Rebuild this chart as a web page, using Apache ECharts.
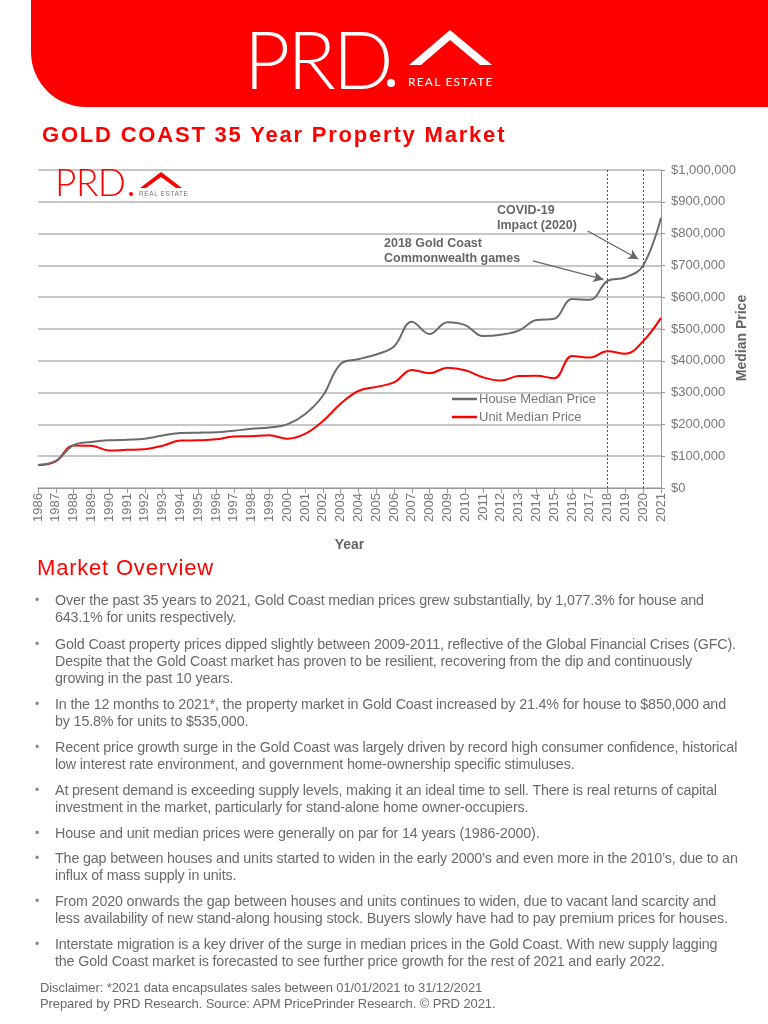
<!DOCTYPE html>
<html>
<head>
<meta charset="utf-8">
<script src="https://cdn.jsdelivr.net/npm/echarts@6/dist/echarts.min.js"></script>
<style>
  html, body { margin:0; padding:0; background:#fff; width:768px; height:1024px; overflow:hidden; }
  body { position:relative; font-family: "Liberation Sans", Arial, sans-serif; }
  #chart { position:absolute; left:0; top:0; width:768px; height:1024px; z-index:1; }
  .abs { position:absolute; z-index:2; }
  #header { left:31px; top:0; width:737px; height:107px; background:#ff0000; border-bottom-left-radius:55px; z-index:0; }
  .bigprd { font-family: Lato, "Open Sans", sans-serif; font-weight:300; color:#fff; font-size:80px; line-height:80px; letter-spacing:-3px; }
  #title { left:42px; top:121px; color:#ff0000; font-weight:bold; font-size:22px; letter-spacing:1.8px; line-height:28px; white-space:nowrap; }
  #mo { left:37px; top:554px; color:#ff0000; font-size:22px; letter-spacing:0.8px; line-height:28px; white-space:nowrap; }
  .b { left:55px; color:#6a6a6a; font-size:14.3px; line-height:17px; white-space:nowrap; letter-spacing:-0.15px; }
  .b::before { content:"•"; position:absolute; left:-20px; top:0; font-size:12px; color:#888; }
  .d { left:40px; color:#6a6a6a; font-size:13px; line-height:16px; white-space:nowrap; letter-spacing:-0.1px; }
</style>
</head>
<body>
<div id="header" class="abs"></div>
<div class="abs bigprd" style="left:244px; top:18px;">PRD</div>
<div class="abs" style="left:387px; top:79px; width:8px; height:8px; border-radius:4px; background:#fff;"></div>
<svg class="abs" style="left:0; top:0;" width="768" height="110">
  <polygon points="409,65 450,30 492,65 480,65 450,40 421,65" fill="#fff"/>
</svg>
<div class="abs" style="left:408px; top:75px; color:#fff; font-size:12px; letter-spacing:1.2px; line-height:14px; font-family:Lato, sans-serif;">REAL ESTATE</div>

<div id="title" class="abs">GOLD COAST 35 Year Property Market</div>

<!-- inner chart logo -->
<div class="abs" style="left:55px; top:163px; color:#ff0000; font-family:Lato, sans-serif; font-weight:300; font-size:37px; line-height:38px; letter-spacing:-0.5px;">PRD</div>
<div class="abs" style="left:129px; top:192px; width:4px; height:4px; border-radius:2px; background:#ff0000;"></div>
<svg class="abs" style="left:0; top:160px;" width="300" height="40">
  <polygon points="140,28 161,12 182,28 176,28 161,17 146,28" fill="#ff0000"/>
</svg>
<div class="abs" style="left:139px; top:190px; color:#777; font-size:6.5px; letter-spacing:0.6px; line-height:8px;">REAL ESTATE</div>

<div id="chart"></div>

<div id="mo" class="abs">Market Overview</div>

<div class="abs b" style="top:592px;">Over the past 35 years to 2021, Gold Coast median prices grew substantially, by 1,077.3% for house and<br>643.1% for units respectively.</div>
<div class="abs b" style="top:636px;">Gold Coast property prices dipped slightly between 2009-2011, reflective of the Global Financial Crises (GFC).<br>Despite that the Gold Coast market has proven to be resilient, recovering from the dip and continuously<br>growing in the past 10 years.</div>
<div class="abs b" style="top:696px;">In the 12 months to 2021*, the property market in Gold Coast increased by 21.4% for house to $850,000 and<br>by 15.8% for units to $535,000.</div>
<div class="abs b" style="top:739px;">Recent price growth surge in the Gold Coast was largely driven by record high consumer confidence, historical<br>low interest rate environment, and government home-ownership specific stimuluses.</div>
<div class="abs b" style="top:782px;">At present demand is exceeding supply levels, making it an ideal time to sell. There is real returns of capital<br>investment in the market, particularly for stand-alone home owner-occupiers.</div>
<div class="abs b" style="top:825px;">House and unit median prices were generally on par for 14 years (1986-2000).</div>
<div class="abs b" style="top:850px;">The gap between houses and units started to widen in the early 2000’s and even more in the 2010’s, due to an<br>influx of mass supply in units.</div>
<div class="abs b" style="top:893px;">From 2020 onwards the gap between houses and units continues to widen, due to vacant land scarcity and<br>less availability of new stand-along housing stock. Buyers slowly have had to pay premium prices for houses.</div>
<div class="abs b" style="top:936px;">Interstate migration is a key driver of the surge in median prices in the Gold Coast. With new supply lagging<br>the Gold Coast market is forecasted to see further price growth for the rest of 2021 and early 2022.</div>
<div class="abs d" style="top:980px;">Disclaimer: *2021 data encapsulates sales between 01/01/2021 to 31/12/2021<br>Prepared by PRD Research. Source: APM PricePrinder Research. © PRD 2021.</div>

<script>
const years = [1986,1987,1988,1989,1990,1991,1992,1993,1994,1995,1996,1997,1998,1999,2000,2001,2002,2003,2004,2005,2006,2007,2008,2009,2010,2011,2012,2013,2014,2015,2016,2017,2018,2019,2020,2021];
const houseMedian = [72200,85000,135000,145000,150000,152000,155000,165000,173000,174000,175000,180000,186000,190000,200000,232000,290000,390000,405000,420000,445000,523000,484000,521000,512000,478000,482000,495000,528000,532000,594000,592000,651000,662000,700000,850000];
const unitMedian = [72000,84000,134000,133000,118000,120000,122000,133000,149000,150000,153000,162000,163000,166000,155000,170000,210000,265000,305000,318000,332000,371000,361000,378000,370000,348000,338000,352000,353000,345000,415000,410000,430000,422000,462000,535000];
const eventYears = [2018, 2020];
// annotation arrows: [fromYear, fromValue, toYear, toValue]
const gamesArrow = [2013.8, 714000, 2017.76, 656000];
const covidArrow = [2016.88, 808000, 2019.72, 720000];

const chart = echarts.init(document.getElementById('chart'), null, {renderer:'canvas'});
const grey = '#777';
const fmt = v => '$' + v.toLocaleString('en-US');
const dashStyle = { color: '#555', type: [2, 2], width: 1 };

chart.setOption({
  animation: false,
  grid: { left: 38, right: 107, top: 170, bottom: 536, containLabel: false },
  legend: {
    orient: 'vertical', left: 447, top: 387, itemGap: 4, itemWidth: 25, itemHeight: 2.5, icon: 'rect',
    textStyle: { color: grey, fontSize: 13, fontFamily: 'Liberation Sans', padding: [0,0,0,-3], lineHeight: 14 },
    data: ['House Median Price', 'Unit Median Price']
  },
  xAxis: {
    type: 'value', min: 1986, max: 2021, interval: 1,
    name: 'Year', nameLocation: 'middle', nameGap: 50,
    nameTextStyle: { color: '#666', fontWeight: 'bold', fontSize: 14, fontFamily: 'Liberation Sans' },
    axisLine: { show: true, lineStyle: { color: '#999', width: 1 } },
    axisTick: { show: true, length: 5, lineStyle: { color: '#999' } },
    axisLabel: { rotate: 90, color: grey, fontSize: 13, margin: 5, fontFamily: 'Liberation Sans', formatter: v => String(v), showMinLabel: true, showMaxLabel: true },
    splitLine: { show: false }
  },
  yAxis: {
    type: 'value', position: 'right', min: 0, max: 1000000, interval: 100000,
    name: 'Median Price', nameLocation: 'middle', nameRotate: 90, nameGap: 74, nameMoveOverlap: false,
    nameTextStyle: { color: '#666', fontWeight: 'bold', fontSize: 14, fontFamily: 'Liberation Sans', padding: [0, 18, 0, 0] },
    axisLine: { show: true, lineStyle: { color: '#999', width: 1 } },
    axisTick: { show: true, length: 4, lineStyle: { color: '#999' } },
    axisLabel: { color: grey, fontSize: 13, margin: 10, fontFamily: 'Liberation Sans', formatter: fmt },
    splitLine: { show: true, lineStyle: { color: '#b4b4b4', width: 1.5 } }
  },
  series: [
    {
      name: 'Unit Median Price', type: 'line', smooth: 0.4, symbol: 'none',
      data: years.map((y, i) => [y, unitMedian[i]]),
      lineStyle: { color: '#ff0000', width: 2 }, itemStyle: { color: '#ff0000' }, z: 3
    },
    {
      name: 'House Median Price', type: 'line', smooth: 0.4, symbol: 'none',
      data: years.map((y, i) => [y, houseMedian[i]]),
      lineStyle: { color: '#6b6b6b', width: 2 }, itemStyle: { color: '#6b6b6b' }, z: 4,
      markLine: {
        silent: true, animation: false, symbol: ['none', 'none'],
        data: [
          { xAxis: eventYears[0], lineStyle: dashStyle },
          { xAxis: eventYears[1], lineStyle: dashStyle },
          [ { coord: [gamesArrow[0], gamesArrow[1]], symbol: 'none' }, { coord: [gamesArrow[2], gamesArrow[3]], symbol: 'arrow', symbolSize: [8, 10] } ],
          [ { coord: [covidArrow[0], covidArrow[1]], symbol: 'none' }, { coord: [covidArrow[2], covidArrow[3]], symbol: 'arrow', symbolSize: [8, 10] } ]
        ],
        lineStyle: { color: '#666', width: 1.3, type: 'solid' },
        label: { show: false }
      }
    }
  ],
  graphic: [
    { type: 'text', left: 384, top: 236, style: { text: '2018 Gold Coast\nCommonwealth games', fill: '#666', font: 'bold 12.5px "Liberation Sans"', lineHeight: 15 } },
    { type: 'text', left: 497, top: 203, style: { text: 'COVID-19\nImpact (2020)', fill: '#666', font: 'bold 12.5px "Liberation Sans"', lineHeight: 15 } }
  ]
});
</script>
</body>
</html>
